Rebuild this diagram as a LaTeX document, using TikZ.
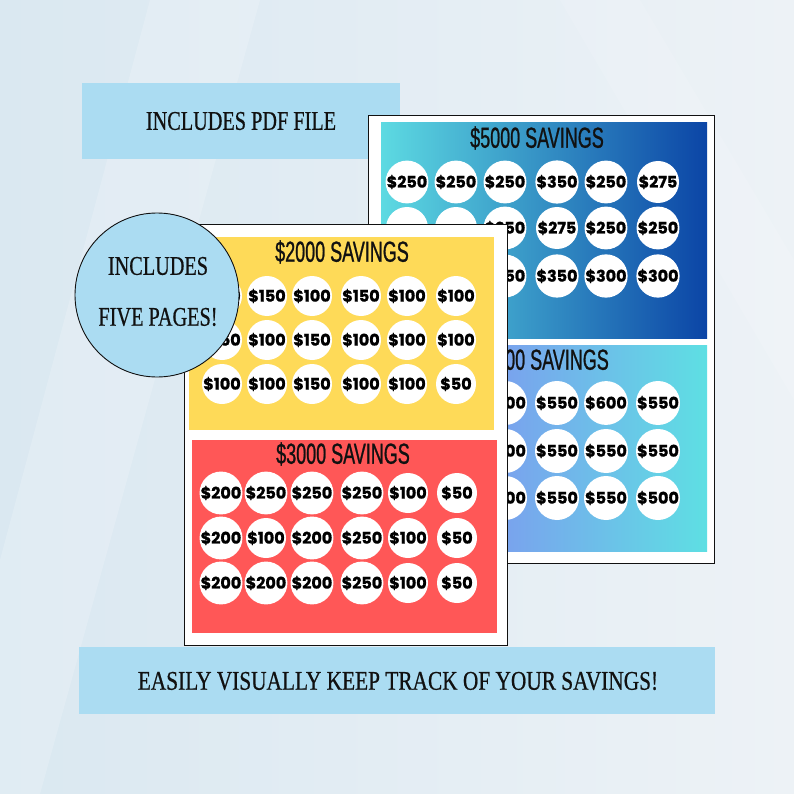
\documentclass[tikz,border=0pt]{standalone}
\usepackage{fontspec}
\setmainfont{Liberation Serif}
\newfontfamily\bannerfont[FakeStretch=0.75,FakeBold=0.6]{Liberation Serif}
\newfontfamily\bannerwide[FakeStretch=0.79,FakeBold=0.6]{Liberation Serif}
\newfontfamily\titlefont[FakeStretch=0.62,FakeBold=0.8]{Liberation Sans}
\newfontfamily\valuefont[BoldFeatures={FakeBold=1.2}]{Poppins}
\definecolor{bgL}{HTML}{DAE8F1}
\definecolor{bgR}{HTML}{EDF2F6}
\definecolor{banner}{HTML}{ABDCF2}
\definecolor{yel}{HTML}{FEDA58}
\definecolor{redp}{HTML}{FF5757}
\definecolor{cyanA}{HTML}{5DDAE2}
\definecolor{navy}{HTML}{0B45A6}
\definecolor{violet}{HTML}{8A7EF4}
\definecolor{cyanB}{HTML}{5EDFE3}
\definecolor{ink}{HTML}{111111}
\begin{document}
\begin{tikzpicture}[x=1pt,y=-1pt,
  page/.style={draw=ink, line width=0.9pt, fill=white},
  bannerbox/.style={fill=banner, draw=none},
  bannertext/.style={font=\bannerfont\fontsize{27}{27}\selectfont, text=ink, inner sep=0pt},
  paneltitle/.style={font=\titlefont\fontsize{29}{29}\selectfont, text=ink, inner sep=0pt},
  valA/.style={circle, fill=white, minimum size=42pt, inner sep=0pt, text=black,
    font=\valuefont\bfseries\fontsize{16}{16}\selectfont},
  valB/.style={valA, minimum size=40pt}]
\useasboundingbox (0,0) rectangle (794,794);
% background
\fill[left color=bgL, right color=bgR] (0,0) rectangle (794,794);
\fill[white, opacity=0.18] (150,0) -- (260,0) -- (40,794) -- (0,794) -- (0,560) -- cycle;
\fill[white, opacity=0.12] (560,0) -- (640,0) -- (794,260) -- (794,400) -- cycle;
% top banner
\node[bannerbox, minimum width=318pt, minimum height=76pt, inner sep=0pt] (topbanner) at (241,121) {};
\node[bannertext] (toptext) at (241,121) {INCLUDES PDF FILE};
% right page
\draw[page] (368,115) rectangle (714,563);
\node[inner sep=0pt, minimum width=326pt, minimum height=215pt, left color=cyanA, right color=navy] (p5) at (544,230.5) {};
\node[inner sep=0pt, minimum width=326pt, minimum height=206pt, left color=violet, right color=cyanB] (p4) at (544,448) {};
\node[paneltitle] (t5) at (537,138) {\$5000 SAVINGS};
\node[paneltitle] (t4) at (542,360) {\$4000 SAVINGS};
\foreach \x/\v [count=\i] in {407/250,456/250,505/250,557/350,606/250,658/275}
  \node[valA] (b1-\i) at (\x,182) {\$\v};
\foreach \x/\v [count=\i] in {407/{},456/{},505/{\$250},557/{\$275},606/{\$250},658/{\$250}}
  \node[valA] (b2-\i) at (\x,228) {\v};
\foreach \x/\v [count=\i] in {407/{},456/{},505/{\$250},557/{\$350},606/{\$300},658/{\$300}}
  \node[valA] (b3-\i) at (\x,276) {\v};
\foreach \x/\v [count=\i] in {505/{\$500},557/{\$550},606/{\$600},658/{\$550}}
  \node[valA] (c1-\i) at (\x,403) {\v};
\foreach \x/\v [count=\i] in {505/{\$500},557/{\$550},606/{\$550},658/{\$550}}
  \node[valA] (c2-\i) at (\x,451) {\v};
\foreach \x/\v [count=\i] in {505/{\$500},557/{\$550},606/{\$550},658/{\$500}}
  \node[valA] (c3-\i) at (\x,498) {\v};
% left page
\draw[page] (184,224) rectangle (507,645);
\node[inner sep=0pt, minimum width=305pt, minimum height=193pt, fill=yel] (p2) at (341.5,333.5) {};
\node[inner sep=0pt, minimum width=305pt, minimum height=193pt, fill=redp] (p3) at (344.5,536.5) {};
\node[paneltitle] (t2) at (342,252) {\$2000 SAVINGS};
\node[paneltitle] (t3) at (343,454) {\$3000 SAVINGS};
\foreach \x/\v [count=\i] in {222/150,267/150,312/100,361/150,407/100,456/100}
  \node[valB] (y1-\i) at (\x,296) {\$\v};
\foreach \x/\v [count=\i] in {222/150,267/100,312/150,361/100,407/100,456/100}
  \node[valB] (y2-\i) at (\x,340) {\$\v};
\foreach \x/\v [count=\i] in {222/100,267/100,312/150,361/100,407/100,456/50}
  \node[valB] (y3-\i) at (\x,384) {\$\v};
\foreach \x/\v [count=\i] in {221/200,266/250,312/250,362/250,408/100,457/50}
  \node[valB] (r1-\i) at (\x,493) {\$\v};
\foreach \x/\v [count=\i] in {221/200,266/100,312/200,362/250,408/100,457/50}
  \node[valB] (r2-\i) at (\x,538) {\$\v};
\foreach \x/\v [count=\i] in {221/200,266/200,312/200,362/250,408/100,457/50}
  \node[valB] (r3-\i) at (\x,583) {\$\v};
% badge
\node[circle, draw=ink, line width=0.9pt, fill=banner, minimum size=164pt, inner sep=0pt] (badge) at (157,295) {};
\node[bannertext] (badge1) at (158,266) {INCLUDES};
\node[bannertext] (badge2) at (158,317) {FIVE PAGES!};
% bottom banner
\node[bannerbox, minimum width=636pt, minimum height=67pt, inner sep=0pt] (botbanner) at (397,680.5) {};
\node[bannertext, font=\bannerwide\fontsize{27}{27}\selectfont] (bottext) at (398,681) {EASILY VISUALLY KEEP TRACK OF YOUR SAVINGS!};
\end{tikzpicture}
\end{document}
